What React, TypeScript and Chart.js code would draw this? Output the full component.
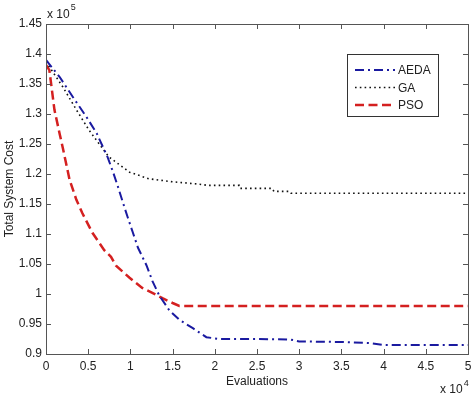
import React, { useEffect, useRef } from "react";
import { Chart, registerables } from "chart.js";

Chart.register(...registerables);

// Evaluations and total system cost (real units)
const aedaX = [0, 1600, 3200, 4800, 6000, 7300, 7900, 8500, 9100, 9700, 10300, 10900, 11900, 12600, 13400, 14600, 15800, 17400, 19000, 20500, 25000, 29000, 30000, 35000, 38500, 40000, 45000, 50000];
const aedaY = [139000, 136200, 132800, 129500, 126800, 122800, 120500, 118000, 115300, 112700, 110200, 107700, 104800, 102200, 99800, 97300, 95700, 94300, 92800, 92500, 92500, 92400, 92100, 92000, 91800, 91500, 91500, 91500];

const gaX = [0, 2000, 3600, 5100, 7100, 7500, 9900, 12200, 15000, 18200, 19200, 22900, 23000, 26800, 27000, 28800, 29000, 50000];
const gaY = [138700, 134500, 130700, 127300, 123500, 122800, 120300, 119200, 118700, 118300, 118100, 118100, 117600, 117600, 117100, 117100, 116800, 116800];

const psoX = [0, 400, 1000, 1600, 2000, 2800, 3600, 4300, 5500, 6900, 7700, 8300, 9900, 11400, 12600, 13800, 15000, 15800, 50000];
const psoY = [138200, 137300, 130700, 126800, 124300, 119000, 115700, 113500, 110200, 107300, 106200, 104700, 102700, 101000, 100200, 99300, 98500, 98000, 98000];

const seriesLabels = ["AEDA", "GA", "PSO"];
const xTitle = "Evaluations";
const yTitle = "Total System Cost";
const xExp = "4";
const yExp = "5";

const FONT = "'Liberation Sans', Arial, sans-serif";
const TEXT = "#222";
const AXIS = "#555";

const pts = (xs: number[], ys: number[]) => xs.map((x, i) => ({ x, y: ys[i] }));
const fmt = (v: number, d: number) => String(+(v / d).toFixed(2));

const framePlugin = {
  id: "matlabFrame",
  afterDraw(chart: any) {
    const ctx = chart.ctx;
    const { left, right, top, bottom } = chart.chartArea;
    const xs = chart.scales.x;
    const ys = chart.scales.y;
    ctx.save();
    ctx.strokeStyle = AXIS;
    ctx.lineWidth = 1;
    ctx.strokeRect(left + 0.5, top + 0.5, right - left, bottom - top);
    const tl = 5;
    ctx.beginPath();
    xs.ticks.forEach((t: any) => {
      const p = Math.round(xs.getPixelForValue(t.value)) + 0.5;
      ctx.moveTo(p, bottom);
      ctx.lineTo(p, bottom - tl);
      ctx.moveTo(p, top);
      ctx.lineTo(p, top + tl);
    });
    ys.ticks.forEach((t: any) => {
      const p = Math.round(ys.getPixelForValue(t.value)) + 0.5;
      ctx.moveTo(left, p);
      ctx.lineTo(left + tl, p);
      ctx.moveTo(right, p);
      ctx.lineTo(right - tl, p);
    });
    ctx.stroke();

    // exponent labels
    ctx.fillStyle = TEXT;
    ctx.textBaseline = "alphabetic";
    ctx.textAlign = "left";
    ctx.font = `12px ${FONT}`;
    ctx.fillText("x 10", 47, 18);
    let w = ctx.measureText("x 10").width;
    ctx.font = `9px ${FONT}`;
    ctx.fillText(yExp, 47 + w + 1, 10);
    ctx.font = `12px ${FONT}`;
    ctx.fillText("x 10", 440, 393);
    w = ctx.measureText("x 10").width;
    ctx.font = `9px ${FONT}`;
    ctx.fillText(xExp, 440 + w + 1, 386);

    // legend
    const lx = 347, ly = 54, lw = 91, lh = 62;
    ctx.fillStyle = "#fff";
    ctx.fillRect(lx, ly, lw, lh);
    ctx.strokeStyle = "#333";
    ctx.lineWidth = 1;
    ctx.strokeRect(lx + 0.5, ly + 0.5, lw, lh);
    chart.data.datasets.forEach((ds: any, i: number) => {
      const yy = 70 + i * 17.5;
      ctx.save();
      ctx.strokeStyle = ds.borderColor;
      ctx.lineWidth = ds.borderWidth;
      ctx.setLineDash(ds.borderDash || []);
      ctx.beginPath();
      ctx.moveTo(355, yy);
      ctx.lineTo(395, yy);
      ctx.stroke();
      ctx.restore();
      ctx.fillStyle = TEXT;
      ctx.font = `12px ${FONT}`;
      ctx.textBaseline = "middle";
      ctx.fillText(ds.label, 398, yy + 1);
    });
    ctx.restore();
  },
};

export default function App() {
  const ref = useRef<HTMLCanvasElement>(null);
  useEffect(() => {
    if (!ref.current) return;
    const chart = new Chart(ref.current, {
      type: "line",
      data: {
        datasets: [
          { label: seriesLabels[0], data: pts(aedaX, aedaY), borderColor: "#1a1aa0", borderWidth: 2, borderDash: [9, 4, 2, 4] },
          { label: seriesLabels[1], data: pts(gaX, gaY), borderColor: "#111", borderWidth: 1.6, borderDash: [1.6, 3.2] },
          { label: seriesLabels[2], data: pts(psoX, psoY), borderColor: "#d42020", borderWidth: 2.5, borderDash: [9, 4.5] },
        ] as any,
      },
      options: {
        animation: false,
        responsive: true,
        maintainAspectRatio: false,
        elements: { point: { radius: 0 }, line: { tension: 0 } },
        layout: { padding: { top: 24, right: 6, left: 0, bottom: 0 } },
        plugins: { legend: { display: false }, tooltip: { enabled: false } },
        scales: {
          x: {
            type: "linear",
            min: 0,
            max: 50000,
            grid: { display: false, drawTicks: false },
            border: { display: false },
            ticks: { stepSize: 5000, padding: 5, color: TEXT, font: { family: FONT, size: 12 }, callback: (v: any) => fmt(v, 1e4), maxRotation: 0 },
            title: { display: true, text: xTitle, color: TEXT, font: { family: FONT, size: 12 }, padding: { top: 0, bottom: 6 } },
            afterFit: (s: any) => { s.height = 41; s.paddingLeft = 0; s.paddingRight = 0; },
          },
          y: {
            type: "linear",
            min: 90000,
            max: 145000,
            grid: { display: false, drawTicks: false },
            border: { display: false },
            ticks: { stepSize: 5000, padding: 4, color: TEXT, font: { family: FONT, size: 12 }, callback: (v: any) => fmt(v, 1e5) },
            title: { display: true, text: yTitle, color: TEXT, font: { family: FONT, size: 12 }, padding: { top: 2, bottom: 0 } },
            afterFit: (s: any) => { s.width = 46; s.paddingTop = 0; s.paddingBottom = 0; },
          },
        },
      } as any,
      plugins: [framePlugin],
    });
    return () => chart.destroy();
  }, []);
  return (
    <div style={{ position: "absolute", left: 0, top: 0, width: 474, height: 395, background: "#fff" }}>
      <canvas ref={ref} />
    </div>
  );
}
